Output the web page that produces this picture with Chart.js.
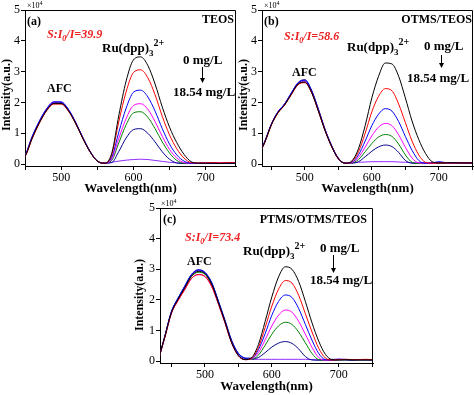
<!DOCTYPE html>
<html>
<head>
<meta charset="utf-8">
<script src="https://cdn.jsdelivr.net/npm/chart.js@4.4.1/dist/chart.umd.min.js"></script>
<style>
html, body { margin: 0; padding: 0; background: #fff; }
#wrap { position: relative; width: 474px; height: 395px; overflow: hidden; }
canvas { position: absolute; }
</style>
</head>
<body>
<div id="wrap">
  <canvas id="chart-a" width="237" height="200" style="left:0;top:0"></canvas>
  <canvas id="chart-b" width="237" height="200" style="left:237px;top:0"></canvas>
  <canvas id="chart-c" width="280" height="200" style="left:100px;top:195px"></canvas>
</div>
<script>
// wavelength grid (nm)
const wavelengths = [430,440,450,460,470,480,490,500,510,520,530,540,550,
  560,570,580,590,600,610,620,630,640,650,660,670,680,690,700,710,720,730,740,750];

// intensity (x10^4), one array per Cu2+ level, 0 mg/L ... 18.54 mg/L
// (a) TEOS
const teosBlack   = [0.0,0.05,0.25,0.85,1.35,1.75,1.97,1.97,1.74,1.33,0.84,0.4,0.1, 0.03,0.35,1.6,2.7,3.38,3.48,3.2,2.6,1.85,1.2,0.7,0.32,0.08,0.03,0.03,0.03,0.02,0.03,0.03,0.02];
const teosRed     = [0.0,0.05,0.24,0.83,1.33,1.73,1.95,1.95,1.72,1.32,0.83,0.4,0.1, 0.03,0.3,1.4,2.35,2.97,3.06,2.8,2.25,1.55,0.95,0.5,0.2,0.05,0.04,0.04,0.05,0.04,0.05,0.05,0.04];
const teosBlue    = [0.0,0.06,0.28,0.9,1.4,1.8,2.02,2.02,1.78,1.36,0.86,0.41,0.1, 0.03,0.22,1.05,1.82,2.33,2.4,2.18,1.72,1.15,0.65,0.3,0.1,0.03,0.03,0.03,0.03,0.03,0.03,0.03,0.03];
const teosMagenta = [0.0,0.05,0.26,0.86,1.36,1.76,1.98,1.97,1.75,1.34,0.85,0.4,0.1, 0.03,0.16,0.85,1.48,1.9,1.96,1.78,1.38,0.9,0.48,0.2,0.05,0.03,0.03,0.04,0.04,0.04,0.05,0.05,0.04];
const teosGreen   = [0.0,0.05,0.25,0.85,1.35,1.75,1.96,1.96,1.74,1.33,0.84,0.4,0.1, 0.03,0.12,0.7,1.28,1.66,1.7,1.52,1.15,0.72,0.36,0.12,0.03,0.03,0.03,0.03,0.03,0.03,0.03,0.03,0.03];
const teosNavy    = [0.0,0.06,0.27,0.88,1.38,1.78,1.99,1.99,1.76,1.35,0.86,0.42,0.11, 0.03,0.05,0.42,0.85,1.12,1.15,1.0,0.72,0.4,0.16,0.04,0.02,0.02,0.02,0.02,0.02,0.02,0.02,0.02,0.02];
const teosViolet  = [0.0,0.06,0.28,0.9,1.4,1.8,2.02,2.01,1.78,1.36,0.86,0.42,0.1, 0.03,0.06,0.1,0.13,0.15,0.16,0.15,0.12,0.09,0.06,0.04,0.03,0.03,0.03,0.03,0.03,0.03,0.03,0.03,0.03];

// (b) OTMS/TEOS
const otmsBlack   = [0.25,0.7,1.28,1.68,1.93,2.28,2.6,2.66,2.33,1.74,1.1,0.57,0.17, 0.03,0.1,0.5,1.25,2.15,2.85,3.28,3.25,2.85,2.15,1.4,0.8,0.35,0.08,0.04,0.04,0.05,0.04,0.04,0.04];
const otmsRed     = [0.25,0.7,1.27,1.66,1.92,2.26,2.58,2.64,2.32,1.73,1.1,0.57,0.18, 0.03,0.08,0.4,1.0,1.7,2.2,2.45,2.38,1.95,1.35,0.75,0.3,0.06,0.03,0.04,0.04,0.04,0.04,0.04,0.04];
const otmsBlue    = [0.27,0.73,1.3,1.7,1.96,2.32,2.64,2.72,2.38,1.78,1.13,0.6,0.19, 0.03,0.06,0.3,0.75,1.25,1.62,1.8,1.72,1.38,0.9,0.45,0.12,0.03,0.04,0.08,0.05,0.04,0.05,0.04,0.04];
const otmsMagenta = [0.26,0.71,1.29,1.68,1.94,2.29,2.6,2.67,2.34,1.75,1.1,0.57,0.17, 0.03,0.05,0.22,0.55,0.92,1.2,1.32,1.25,0.95,0.55,0.2,0.04,0.03,0.03,0.04,0.04,0.04,0.04,0.04,0.04];
const otmsGreen   = [0.25,0.7,1.28,1.67,1.93,2.28,2.6,2.66,2.33,1.74,1.1,0.57,0.17, 0.03,0.04,0.15,0.4,0.67,0.88,0.96,0.9,0.65,0.3,0.06,0.02,0.03,0.03,0.03,0.03,0.03,0.03,0.03,0.03];
const otmsNavy    = [0.27,0.72,1.3,1.7,1.96,2.31,2.65,2.74,2.4,1.8,1.14,0.6,0.2, 0.03,0.03,0.08,0.24,0.42,0.56,0.62,0.57,0.38,0.12,0.03,0.02,0.02,0.03,0.03,0.03,0.03,0.03,0.03,0.03];
const otmsViolet  = [0.27,0.72,1.3,1.7,1.95,2.3,2.63,2.7,2.37,1.77,1.12,0.58,0.18, 0.04,0.05,0.06,0.07,0.08,0.08,0.08,0.08,0.07,0.06,0.05,0.05,0.05,0.05,0.05,0.04,0.04,0.04,0.04,0.04];

// (c) PTMS/OTMS/TEOS
const ptmsBlack   = [0.0,0.78,1.58,2.02,2.4,2.78,2.93,2.86,2.52,1.92,1.28,0.6,0.18, 0.05,0.12,0.55,1.3,2.1,2.75,3.08,3.0,2.6,1.95,1.25,0.65,0.22,0.05,0.04,0.05,0.04,0.04,0.04,0.04];
const ptmsRed     = [0.0,0.76,1.56,1.98,2.34,2.7,2.83,2.77,2.45,1.88,1.25,0.59,0.18, 0.05,0.1,0.45,1.1,1.8,2.35,2.63,2.55,2.15,1.55,0.95,0.42,0.1,0.04,0.05,0.06,0.05,0.05,0.06,0.05];
const ptmsBlue    = [0.0,0.8,1.62,2.06,2.45,2.83,2.98,2.9,2.56,1.96,1.32,0.66,0.24, 0.1,0.1,0.38,0.9,1.5,1.95,2.16,2.08,1.72,1.2,0.68,0.25,0.05,0.04,0.06,0.05,0.04,0.05,0.05,0.04];
const ptmsMagenta = [0.0,0.76,1.56,1.98,2.34,2.7,2.82,2.76,2.44,1.88,1.25,0.6,0.18, 0.05,0.08,0.28,0.7,1.15,1.5,1.67,1.6,1.3,0.88,0.45,0.12,0.03,0.04,0.05,0.05,0.05,0.05,0.05,0.05];
const ptmsGreen   = [0.0,0.77,1.58,2.0,2.38,2.76,2.9,2.84,2.5,1.92,1.28,0.62,0.2, 0.06,0.06,0.2,0.52,0.88,1.15,1.27,1.2,0.95,0.6,0.25,0.05,0.03,0.03,0.04,0.04,0.04,0.04,0.04,0.04];
const ptmsNavy    = [0.0,0.8,1.62,2.06,2.45,2.83,2.98,2.9,2.58,1.98,1.34,0.68,0.26, 0.1,0.07,0.12,0.28,0.46,0.59,0.64,0.58,0.4,0.15,0.04,0.03,0.03,0.03,0.04,0.04,0.03,0.04,0.04,0.04];
const ptmsViolet  = [0.0,0.78,1.6,2.03,2.42,2.8,2.95,2.88,2.54,1.94,1.3,0.63,0.2, 0.07,0.06,0.06,0.06,0.06,0.06,0.06,0.06,0.06,0.06,0.05,0.05,0.05,0.06,0.07,0.06,0.05,0.05,0.05,0.05];

const seriesColors = ['#000000', '#ff0000', '#0000ff', '#ff00ff', '#008000', '#00008b', '#8f2bff'];
const xTickValues = [450, 500, 550, 600, 650, 700, 750];
const xTickLabels = [500, 600, 700];
const yTickValues = [0, 1, 2, 3, 4, 5];

const FONT = "'Liberation Serif', 'Times New Roman', serif";
const f = (size, style) => `${style || 'bold'} ${size}px ${FONT}`;
const RED = '#ee2222';

function drawRich(ctx, x, y, segs, align) {
    let w = 0;
    segs.forEach(s => { ctx.font = s.font; w += ctx.measureText(s.t).width; });
    let cx = align === 'right' ? x - w : x;
    segs.forEach(s => {
        ctx.font = s.font;
        ctx.fillStyle = s.color || '#000';
        ctx.fillText(s.t, cx, y + (s.dy || 0));
        cx += ctx.measureText(s.t).width;
    });
}

function makeDecor(cfg) {
    return {
        id: 'decor',
        afterDraw(chart) {
            const ctx = chart.ctx;
            const a = chart.chartArea;
            ctx.save();
            // top and right frame
            ctx.strokeStyle = '#000';
            ctx.lineWidth = 1;
            ctx.beginPath();
            ctx.moveTo(Math.round(a.left), Math.round(a.top) + 0.5);
            ctx.lineTo(Math.round(a.right) - 0.5, Math.round(a.top) + 0.5);
            ctx.lineTo(Math.round(a.right) - 0.5, Math.round(a.bottom));
            ctx.stroke();

            ctx.textBaseline = 'alphabetic';
            // x10^4
            drawRich(ctx, cfg.exp[0], cfg.exp[1], [{ t: '\u00d710', font: f(8, 'normal') }, { t: '4', font: f(6, 'normal'), dy: -3 }]);
            drawRich(ctx, cfg.tag[0], cfg.tag[1], [{ t: cfg.tag[2], font: f(12) }]);
            drawRich(ctx, cfg.name[0], cfg.name[1], [{ t: cfg.name[2], font: f(12) }], 'right');
            drawRich(ctx, cfg.ratio[0], cfg.ratio[1], [
                { t: 'S:', font: f(12, 'italic bold'), color: RED },
                { t: 'I', font: f(12, 'italic bold'), color: RED },
                { t: '0', font: f(8, 'italic bold'), color: RED, dy: 3 },
                { t: '/I=' + cfg.ratio[2], font: f(12, 'italic bold'), color: RED }
            ]);
            drawRich(ctx, cfg.ru[0], cfg.ru[1], [
                { t: 'Ru(dpp)', font: f(13) },
                { t: '3', font: f(9), dy: 4 },
                { t: '2+', font: f(10), dy: -6 }
            ]);
            drawRich(ctx, cfg.afc[0], cfg.afc[1], [{ t: 'AFC', font: f(12) }]);
            drawRich(ctx, cfg.top[0], cfg.top[1], [{ t: '0 mg/L', font: f(13) }]);
            drawRich(ctx, cfg.bottom[0], cfg.bottom[1], [{ t: '18.54 mg/L', font: f(13) }]);

            // arrow
            const [ax, ay1, ay2] = cfg.arrow;
            ctx.beginPath();
            ctx.moveTo(ax + 0.5, ay1);
            ctx.lineTo(ax + 0.5, ay2 - 3);
            ctx.stroke();
            ctx.fillStyle = '#000';
            ctx.beginPath();
            ctx.moveTo(ax + 0.5, ay2);
            ctx.lineTo(ax - 2, ay2 - 5);
            ctx.lineTo(ax + 3, ay2 - 5);
            ctx.closePath();
            ctx.fill();

            // y title
            ctx.translate(cfg.yTitle[0], cfg.yTitle[1]);
            ctx.rotate(-Math.PI / 2);
            ctx.font = f(12);
            ctx.fillStyle = '#000';
            ctx.textAlign = 'center';
            ctx.textBaseline = 'middle';
            ctx.fillText('Intensity(a.u.)', 0, 0);
            ctx.restore();
        }
    };
}

function buildPanel(id, series, cfg) {
    const datasets = series.map((vals, i) => ({
        data: vals.map((v, j) => ({ x: wavelengths[j], y: v })),
        borderColor: seriesColors[i],
        borderWidth: 1,
        pointRadius: 0,
        cubicInterpolationMode: 'monotone',
        fill: false
    }));

    return new Chart(document.getElementById(id), {
        type: 'line',
        data: { datasets },
        plugins: [makeDecor(cfg)],
        options: {
            responsive: false,
            animation: false,
            events: [],
            layout: { padding: cfg.pad },
            plugins: { legend: { display: false }, tooltip: { enabled: false } },
            scales: {
                x: {
                    type: 'linear',
                    min: cfg.xMin,
                    max: cfg.xMax,
                    afterBuildTicks: (axis) => {
                        axis.ticks = xTickValues.filter(v => v >= cfg.xMin && v <= cfg.xMax).map(v => ({ value: v }));
                    },
                    afterFit: (axis) => { axis.height = cfg.xHeight; },
                    border: { color: '#000', width: 1 },
                    grid: { drawOnChartArea: false, drawTicks: true, tickLength: 4, color: '#000' },
                    ticks: {
                        color: '#000',
                        padding: 1,
                        maxRotation: 0,
                        autoSkip: false,
                        font: { family: FONT, size: 12 },
                        callback: (v) => xTickLabels.includes(v) ? String(v) : ''
                    },
                    title: {
                        display: true,
                        text: 'Wavelength(nm)',
                        color: '#000',
                        font: { family: FONT, size: 13, weight: 'bold', lineHeight: 1 },
                        padding: { top: 0, bottom: cfg.xTitlePad }
                    }
                },
                y: {
                    min: -0.06,
                    max: 5,
                    afterBuildTicks: (axis) => { axis.ticks = yTickValues.map(v => ({ value: v })); },
                    afterFit: (axis) => { axis.width = cfg.yWidth; },
                    border: { color: '#000', width: 1 },
                    grid: { drawOnChartArea: false, drawTicks: true, tickLength: 4, color: '#000' },
                    ticks: {
                        color: '#000',
                        padding: 1,
                        font: { family: FONT, size: 12 }
                    }
                }
            }
        }
    });
}

buildPanel('chart-a', [teosBlack, teosRed, teosBlue, teosMagenta, teosGreen, teosNavy, teosViolet], {
    xMin: 450, xMax: 742, pad: { left: 0, top: 10, right: 1, bottom: 0 },
    yWidth: 25, xHeight: 34, xTitlePad: 4.5,
    exp: [27, 8], tag: [27, 25, '(a)'], name: [234, 23, 'TEOS'],
    ratio: [47, 38, '39.9'], ru: [102, 52], afc: [47, 92],
    top: [183, 64], bottom: [173, 96], arrow: [202, 67, 83], yTitle: [7, 95]
});

buildPanel('chart-b', [otmsBlack, otmsRed, otmsBlue, otmsMagenta, otmsGreen, otmsNavy, otmsViolet], {
    xMin: 436, xMax: 751, pad: { left: 0, top: 10, right: 1, bottom: 0 },
    yWidth: 25, xHeight: 34, xTitlePad: 4.5,
    exp: [27, 8], tag: [27, 25, '(b)'], name: [235, 23, 'OTMS/TEOS'],
    ratio: [47, 40, '58.6'], ru: [110, 51], afc: [55, 76],
    top: [187, 50], bottom: [170, 82], arrow: [204, 55, 68], yTitle: [7, 95]
});

buildPanel('chart-c', [ptmsBlack, ptmsRed, ptmsBlue, ptmsMagenta, ptmsGreen, ptmsNavy, ptmsViolet], {
    xMin: 433, xMax: 751, pad: { left: 0, top: 13, right: 7, bottom: 0 },
    yWidth: 60, xHeight: 32, xTitlePad: 1.5,
    exp: [61, 11], tag: [63, 28, '(c)'], name: [267, 28, 'PTMS/OTMS/TEOS'],
    ratio: [85, 46, '73.4'], ru: [143, 60], afc: [87, 70],
    top: [220, 57], bottom: [210, 89], arrow: [233, 60, 78], yTitle: [40, 100]
});
</script>
</body>
</html>
